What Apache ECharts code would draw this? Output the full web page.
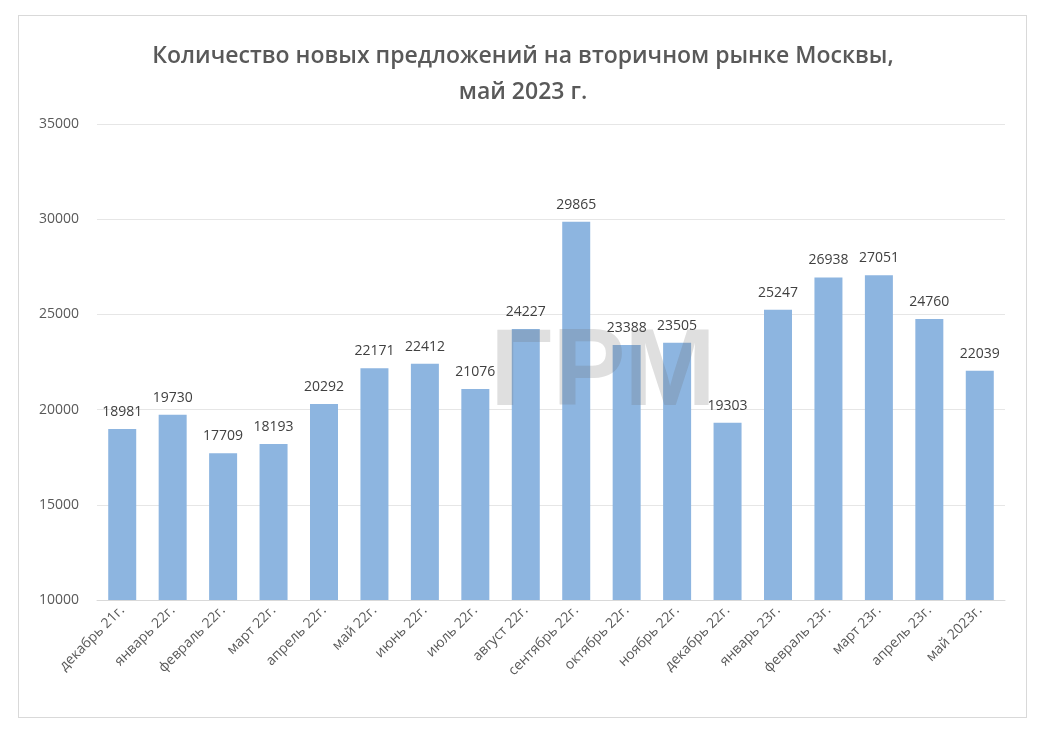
<!DOCTYPE html>
<html>
<head>
<meta charset="utf-8">
<script src="https://cdn.jsdelivr.net/npm/echarts@6/dist/echarts.min.js"></script>
<style>
html,body{margin:0;padding:0;background:#fff;}
#frame{position:absolute;left:18px;top:15px;width:1007px;height:701px;border:1px solid #d9d9d9;}
#chart{width:1046px;height:747px;}
</style>
</head>
<body>
<div id="frame"></div>
<div id="chart"></div>
<script>
// данные графика
var categories = ['декабрь 21г.', 'январь 22г.', 'февраль 22г.', 'март 22г.', 'апрель 22г.', 'май 22г.',
	'июнь 22г.', 'июль 22г.', 'август 22г.', 'сентябрь 22г.', 'октябрь 22г.', 'ноябрь 22г.',
	'декабрь 22г.', 'январь 23г.', 'февраль 23г.', 'март 23г.', 'апрель 23г.', 'май 2023г.'];
var values = [18981, 19730, 17709, 18193, 20292, 22171, 22412, 21076, 24227, 29865,
	23388, 23505, 19303, 25247, 26938, 27051, 24760, 22039];

var myChart = echarts.init(document.getElementById('chart'));
var option = {
	animation : false,
	title : {
		text : 'Количество новых предложений на вторичном рынке Москвы,\nмай 2023 г.',
		left : 'center',
		top : 33,
		textStyle : {
			fontFamily : 'Open Sans',
			fontSize : 23,
			fontWeight : 600,
			color : '#595959',
			lineHeight : 36
		}
	},
	graphic : [{
		type : 'text',
		left : 490,
		top : 320,
		z : 100,
		style : {
			text : 'ГРМ',
			fontFamily : 'Liberation Sans',
			fontWeight : 'bold',
			fontSize : 110,
			fill : 'rgba(110,110,110,0.22)'
		}
	}],
	grid : {
		left : 97,
		right : 41,
		top : 124,
		bottom : 147
	},
	xAxis : {
		type : 'category',
		data : categories,
		axisTick : { show : false },
		axisLine : { lineStyle : { color : '#d9d9d9' } },
		axisLabel : {
			interval : 0,
			rotate : 45,
			fontFamily : 'Open Sans',
			fontSize : 14,
			color : '#595959'
		}
	},
	yAxis : {
		type : 'value',
		min : 10000,
		max : 35000,
		interval : 5000,
		axisLine : { show : false },
		axisTick : { show : false },
		splitLine : { lineStyle : { color : '#e6e6e6' } },
		axisLabel : {
			formatter : function(v) { return String(v); },
			fontFamily : 'Open Sans',
			fontSize : 14,
			color : '#595959',
			margin : 18
		}
	},
	series : [{
		type : 'bar',
		data : values,
		barWidth : 28,
		itemStyle : { color : '#8db5e0' },
		label : {
			show : true,
			position : 'top',
			distance : 10,
			fontFamily : 'Open Sans',
			fontSize : 14,
			color : '#404040'
		}
	}]
};
myChart.setOption(option);
</script>
</body>
</html>
